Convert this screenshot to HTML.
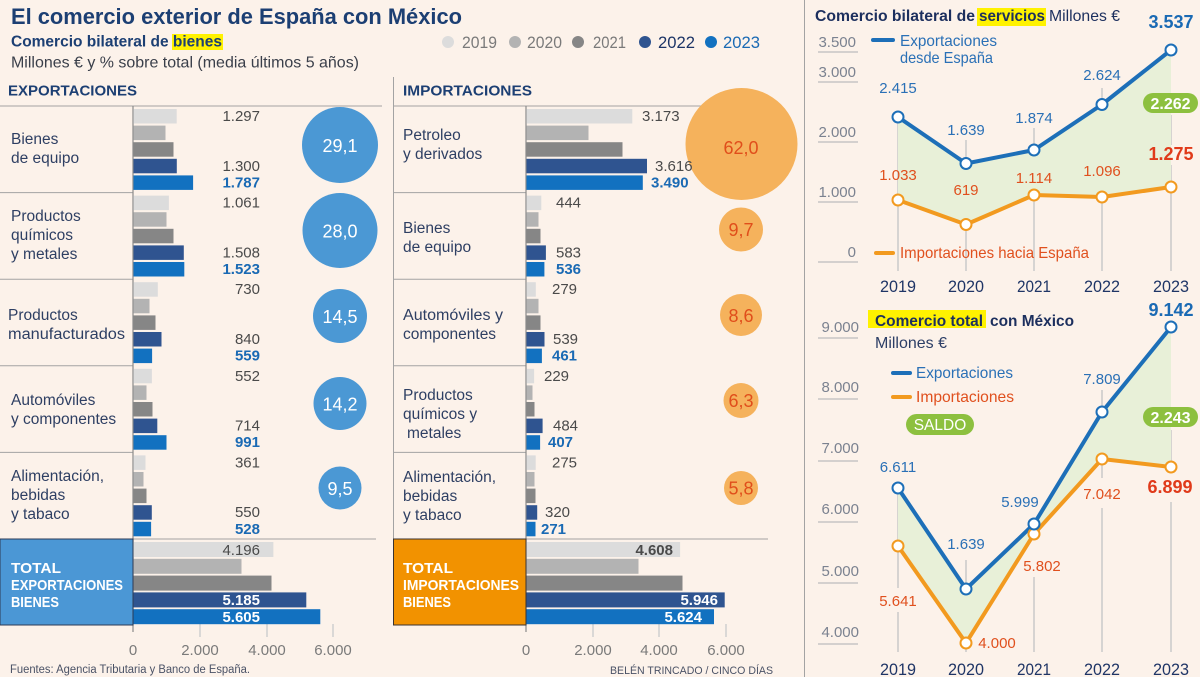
<!DOCTYPE html>
<html><head><meta charset="utf-8"><style>
html,body{margin:0;padding:0;background:#fcf2ea;}
svg{display:block;}
</style></head><body>
<svg width="1200" height="677" viewBox="0 0 1200 677" xmlns="http://www.w3.org/2000/svg" font-family="'Liberation Sans','DejaVu Sans',sans-serif">
<rect width="1200" height="677" fill="#fcf2ea"/>

<!-- HEADER -->
<text x="11" y="24" font-size="22" font-weight="bold" fill="#1c3f73" textLength="451" lengthAdjust="spacingAndGlyphs">El comercio exterior de España con México</text>
<rect x="172" y="34" width="51" height="16" fill="#fff200"/>
<text x="11" y="46.5" font-size="16" font-weight="bold" fill="#1c3f73" textLength="211" lengthAdjust="spacingAndGlyphs">Comercio bilateral de bienes</text>
<text x="11" y="67.5" font-size="16" fill="#3a3f4a" textLength="348" lengthAdjust="spacingAndGlyphs">Millones € y % sobre total (media últimos 5 años)</text>

<g font-size="17">
<circle cx="448" cy="42" r="6" fill="#dcdcdc"/><text x="462" y="48" fill="#7a7a7a" textLength="35" lengthAdjust="spacingAndGlyphs">2019</text>
<circle cx="515" cy="42" r="6" fill="#b3b3b3"/><text x="527" y="48" fill="#7a7a7a" textLength="35" lengthAdjust="spacingAndGlyphs">2020</text>
<circle cx="578" cy="42" r="6" fill="#868686"/><text x="593" y="48" fill="#7a7a7a" textLength="33" lengthAdjust="spacingAndGlyphs">2021</text>
<circle cx="645" cy="42" r="6" fill="#2f5490"/><text x="658" y="48" fill="#1c3466" textLength="37" lengthAdjust="spacingAndGlyphs">2022</text>
<circle cx="711" cy="42" r="6" fill="#1271c0"/><text x="723" y="48" fill="#1a6ab4" textLength="37" lengthAdjust="spacingAndGlyphs">2023</text>
</g>

<text x="8" y="95.5" font-size="15" font-weight="bold" fill="#1c3f73" textLength="129" lengthAdjust="spacingAndGlyphs">EXPORTACIONES</text>
<text x="403" y="95.5" font-size="15" font-weight="bold" fill="#1c3f73" textLength="129" lengthAdjust="spacingAndGlyphs">IMPORTACIONES</text>

<!-- structural lines -->
<g stroke="#a3a3a3" stroke-width="1">
<line x1="0" y1="106" x2="382" y2="106"/>
<line x1="393" y1="106" x2="775" y2="106"/>
<line x1="393.5" y1="77" x2="393.5" y2="625"/>
<line x1="0" y1="192.6" x2="133" y2="192.6"/>
<line x1="0" y1="279.2" x2="133" y2="279.2"/>
<line x1="0" y1="365.8" x2="133" y2="365.8"/>
<line x1="0" y1="452.4" x2="133" y2="452.4"/>
<line x1="393" y1="192.6" x2="526" y2="192.6"/>
<line x1="393" y1="279.2" x2="526" y2="279.2"/>
<line x1="393" y1="365.8" x2="526" y2="365.8"/>
<line x1="393" y1="452.4" x2="526" y2="452.4"/>
<line x1="133" y1="539" x2="376" y2="539"/>
<line x1="526" y1="539" x2="768" y2="539"/>
<line x1="804.5" y1="0" x2="804.5" y2="677"/>
</g>
<g stroke="#8a8a8a" stroke-width="1.2">
<line x1="133" y1="106" x2="133" y2="632"/>
<line x1="526" y1="106" x2="526" y2="632"/>
</g>
<g stroke="#cfcfcf" stroke-width="1.5">
<line x1="200" y1="624" x2="200" y2="637"/>
<line x1="267" y1="624" x2="267" y2="637"/>
<line x1="333" y1="624" x2="333" y2="637"/>
<line x1="593" y1="624" x2="593" y2="637"/>
<line x1="659" y1="624" x2="659" y2="637"/>
<line x1="726" y1="624" x2="726" y2="637"/>
</g>

<!-- CIRCLES (drawn before values) -->
<g fill="#4b98d4">
<circle cx="340" cy="145" r="38"/>
<circle cx="340" cy="230.5" r="37.5"/>
<circle cx="340" cy="316" r="27"/>
<circle cx="340" cy="403.5" r="26.5"/>
<circle cx="340" cy="488" r="21.5"/>
</g>
<g font-size="18" fill="#ffffff" text-anchor="middle">
<text x="340" y="152">29,1</text>
<text x="340" y="237.5">28,0</text>
<text x="340" y="323">14,5</text>
<text x="340" y="410.5">14,2</text>
<text x="340" y="495">9,5</text>
</g>
<g fill="#f5b25c">
<circle cx="741.5" cy="144" r="56"/>
<circle cx="741" cy="229.5" r="22"/>
<circle cx="741" cy="315" r="21"/>
<circle cx="741" cy="400.5" r="17.5"/>
<circle cx="741" cy="488" r="17"/>
</g>
<g font-size="18" fill="#e04e1b" text-anchor="middle">
<text x="741" y="154">62,0</text>
<text x="741" y="236">9,7</text>
<text x="741" y="322">8,6</text>
<text x="741" y="407">6,3</text>
<text x="741" y="494.5">5,8</text>
</g>

<!-- EXPORT BARS -->
<g>
<rect x="133.5" y="109" width="43.2" height="14.5" fill="#dcdcdc"/>
<rect x="133.5" y="125.6" width="32" height="14.5" fill="#b3b3b3"/>
<rect x="133.5" y="142.2" width="40" height="14.5" fill="#868686"/>
<rect x="133.5" y="158.8" width="43.3" height="14.5" fill="#2f5490"/>
<rect x="133.5" y="175.4" width="59.6" height="14.5" fill="#1271c0"/>

<rect x="133.5" y="195.6" width="35.4" height="14.5" fill="#dcdcdc"/>
<rect x="133.5" y="212.2" width="33" height="14.5" fill="#b3b3b3"/>
<rect x="133.5" y="228.8" width="40" height="14.5" fill="#868686"/>
<rect x="133.5" y="245.4" width="50.3" height="14.5" fill="#2f5490"/>
<rect x="133.5" y="262" width="50.8" height="14.5" fill="#1271c0"/>

<rect x="133.5" y="282.2" width="24.3" height="14.5" fill="#dcdcdc"/>
<rect x="133.5" y="298.8" width="16" height="14.5" fill="#b3b3b3"/>
<rect x="133.5" y="315.4" width="22" height="14.5" fill="#868686"/>
<rect x="133.5" y="332" width="28" height="14.5" fill="#2f5490"/>
<rect x="133.5" y="348.6" width="18.6" height="14.5" fill="#1271c0"/>

<rect x="133.5" y="368.8" width="18.4" height="14.5" fill="#dcdcdc"/>
<rect x="133.5" y="385.4" width="13" height="14.5" fill="#b3b3b3"/>
<rect x="133.5" y="402" width="19" height="14.5" fill="#868686"/>
<rect x="133.5" y="418.6" width="23.8" height="14.5" fill="#2f5490"/>
<rect x="133.5" y="435.2" width="33" height="14.5" fill="#1271c0"/>

<rect x="133.5" y="455.4" width="12" height="14.5" fill="#dcdcdc"/>
<rect x="133.5" y="472" width="10" height="14.5" fill="#b3b3b3"/>
<rect x="133.5" y="488.6" width="13" height="14.5" fill="#868686"/>
<rect x="133.5" y="505.2" width="18.3" height="14.5" fill="#2f5490"/>
<rect x="133.5" y="521.8" width="17.6" height="14.5" fill="#1271c0"/>

<rect x="133.5" y="542" width="139.9" height="15" fill="#dcdcdc"/>
<rect x="133.5" y="558.8" width="108" height="15" fill="#b3b3b3"/>
<rect x="133.5" y="575.6" width="138" height="15" fill="#868686"/>
<rect x="133.5" y="592.4" width="172.8" height="15" fill="#2f5490"/>
<rect x="133.5" y="609.2" width="186.8" height="15" fill="#1271c0"/>
</g>

<!-- IMPORT BARS -->
<g>
<rect x="526.5" y="109" width="105.8" height="14.5" fill="#dcdcdc"/>
<rect x="526.5" y="125.6" width="62" height="14.5" fill="#b3b3b3"/>
<rect x="526.5" y="142.2" width="96" height="14.5" fill="#868686"/>
<rect x="526.5" y="158.8" width="120.5" height="14.5" fill="#2f5490"/>
<rect x="526.5" y="175.4" width="116.3" height="14.5" fill="#1271c0"/>

<rect x="526.5" y="195.6" width="14.8" height="14.5" fill="#dcdcdc"/>
<rect x="526.5" y="212.2" width="12" height="14.5" fill="#b3b3b3"/>
<rect x="526.5" y="228.8" width="14" height="14.5" fill="#868686"/>
<rect x="526.5" y="245.4" width="19.4" height="14.5" fill="#2f5490"/>
<rect x="526.5" y="262" width="17.9" height="14.5" fill="#1271c0"/>

<rect x="526.5" y="282.2" width="9.3" height="14.5" fill="#dcdcdc"/>
<rect x="526.5" y="298.8" width="12" height="14.5" fill="#b3b3b3"/>
<rect x="526.5" y="315.4" width="14" height="14.5" fill="#868686"/>
<rect x="526.5" y="332" width="18" height="14.5" fill="#2f5490"/>
<rect x="526.5" y="348.6" width="15.4" height="14.5" fill="#1271c0"/>

<rect x="526.5" y="368.8" width="7.6" height="14.5" fill="#dcdcdc"/>
<rect x="526.5" y="385.4" width="6" height="14.5" fill="#b3b3b3"/>
<rect x="526.5" y="402" width="8" height="14.5" fill="#868686"/>
<rect x="526.5" y="418.6" width="16.1" height="14.5" fill="#2f5490"/>
<rect x="526.5" y="435.2" width="13.6" height="14.5" fill="#1271c0"/>

<rect x="526.5" y="455.4" width="9.2" height="14.5" fill="#dcdcdc"/>
<rect x="526.5" y="472" width="8" height="14.5" fill="#b3b3b3"/>
<rect x="526.5" y="488.6" width="9" height="14.5" fill="#868686"/>
<rect x="526.5" y="505.2" width="10.7" height="14.5" fill="#2f5490"/>
<rect x="526.5" y="521.8" width="9" height="14.5" fill="#1271c0"/>

<rect x="526.5" y="542" width="153.6" height="15" fill="#dcdcdc"/>
<rect x="526.5" y="558.8" width="112" height="15" fill="#b3b3b3"/>
<rect x="526.5" y="575.6" width="156" height="15" fill="#868686"/>
<rect x="526.5" y="592.4" width="198.2" height="15" fill="#2f5490"/>
<rect x="526.5" y="609.2" width="187.5" height="15" fill="#1271c0"/>
</g>

<!-- TOTAL BOXES -->
<rect x="0" y="539" width="133" height="86" fill="#4b97d5" stroke="#2d3b55" stroke-width="1"/>
<rect x="393.5" y="539" width="132.5" height="86" fill="#f29200" stroke="#3a3330" stroke-width="1"/>
<g font-size="15" font-weight="bold" fill="#ffffff">
<text x="11" y="573" textLength="50" lengthAdjust="spacingAndGlyphs">TOTAL</text>
<text x="11" y="590" textLength="112" lengthAdjust="spacingAndGlyphs">EXPORTACIONES</text>
<text x="11" y="607" textLength="48" lengthAdjust="spacingAndGlyphs">BIENES</text>
<text x="403" y="573" textLength="50" lengthAdjust="spacingAndGlyphs">TOTAL</text>
<text x="403" y="590" textLength="116" lengthAdjust="spacingAndGlyphs">IMPORTACIONES</text>
<text x="403" y="607" textLength="48" lengthAdjust="spacingAndGlyphs">BIENES</text>
</g>

<!-- CATEGORY LABELS -->
<g font-size="15.5" fill="#2e3f63">
<text x="11" y="144">Bienes</text>
<text x="11" y="163">de equipo</text>
<text x="11" y="221">Productos</text>
<text x="11" y="240">químicos</text>
<text x="11" y="259">y metales</text>
<text x="8" y="320">Productos</text>
<text x="8" y="339" textLength="117" lengthAdjust="spacingAndGlyphs">manufacturados</text>
<text x="11" y="405">Automóviles</text>
<text x="11" y="424">y componentes</text>
<text x="11" y="481">Alimentación,</text>
<text x="11" y="500">bebidas</text>
<text x="11" y="519">y tabaco</text>

<text x="403" y="140">Petroleo</text>
<text x="403" y="159">y derivados</text>
<text x="403" y="233">Bienes</text>
<text x="403" y="252">de equipo</text>
<text x="403" y="320" textLength="100" lengthAdjust="spacingAndGlyphs">Automóviles y</text>
<text x="403" y="339">componentes</text>
<text x="403" y="400">Productos</text>
<text x="403" y="419">químicos y</text>
<text x="407" y="438">metales</text>
<text x="403" y="482">Alimentación,</text>
<text x="403" y="501">bebidas</text>
<text x="403" y="520">y tabaco</text>
</g>

<!-- EXPORT VALUES -->
<g font-size="15" fill="#4a4a4a" text-anchor="end">
<text x="260" y="121">1.297</text>
<text x="260" y="170.8">1.300</text>
<text x="260" y="207.6">1.061</text>
<text x="260" y="257.4">1.508</text>
<text x="260" y="294.2">730</text>
<text x="260" y="344">840</text>
<text x="260" y="380.8">552</text>
<text x="260" y="430.6">714</text>
<text x="260" y="467.4">361</text>
<text x="260" y="517.2">550</text>
<text x="260" y="555">4.196</text>
</g>
<g font-size="15" font-weight="bold" fill="#1a6ab4" text-anchor="end">
<text x="260" y="187.4">1.787</text>
<text x="260" y="274">1.523</text>
<text x="260" y="360.6">559</text>
<text x="260" y="447.2">991</text>
<text x="260" y="533.8">528</text>
</g>
<g font-size="15" font-weight="bold" fill="#ffffff" text-anchor="end">
<text x="260" y="605">5.185</text>
<text x="260" y="622">5.605</text>
</g>

<!-- IMPORT VALUES -->
<g font-size="15" fill="#4a4a4a">
<text x="642" y="121">3.173</text>
<text x="655" y="170.8">3.616</text>
<text x="556" y="207.6">444</text>
<text x="556" y="257.4">583</text>
<text x="552" y="294.2">279</text>
<text x="553" y="344">539</text>
<text x="544" y="380.8">229</text>
<text x="553" y="430.6">484</text>
<text x="552" y="467.4">275</text>
<text x="545" y="517.2">320</text>
</g>
<g font-size="15" font-weight="bold" fill="#1a6ab4">
<text x="651" y="187.4">3.490</text>
<text x="556" y="274">536</text>
<text x="552" y="360.6">461</text>
<text x="548" y="447.2">407</text>
<text x="541" y="533.8">271</text>
</g>
<text x="673" y="555" font-size="15" font-weight="bold" fill="#4a4a4a" text-anchor="end">4.608</text>
<g font-size="15" font-weight="bold" fill="#ffffff" text-anchor="end">
<text x="718" y="605">5.946</text>
<text x="702" y="622">5.624</text>
</g>

<!-- AXIS LABELS -->
<g font-size="15" fill="#7a7a7a" text-anchor="middle">
<text x="133" y="655">0</text>
<text x="200" y="655">2.000</text>
<text x="267" y="655">4.000</text>
<text x="333" y="655">6.000</text>
<text x="526" y="655">0</text>
<text x="593" y="655">2.000</text>
<text x="659" y="655">4.000</text>
<text x="726" y="655">6.000</text>
</g>

<text x="10" y="673" font-size="11.5" fill="#4a5266" textLength="240" lengthAdjust="spacingAndGlyphs">Fuentes: Agencia Tributaria y Banco de España.</text>
<text x="610" y="674" font-size="11" fill="#4a5266" textLength="163" lengthAdjust="spacingAndGlyphs">BELÉN TRINCADO / CINCO DÍAS</text>

<!-- ================= RIGHT TOP CHART ================= -->
<rect x="977" y="8" width="69" height="18" fill="#fff200"/>
<text x="815" y="21" font-size="16" font-weight="bold" fill="#1c2f5e" textLength="160" lengthAdjust="spacingAndGlyphs">Comercio bilateral de</text>
<text x="979" y="21" font-size="16" font-weight="bold" fill="#1c2f5e" textLength="66" lengthAdjust="spacingAndGlyphs">servicios</text>
<text x="1049" y="21" font-size="16" fill="#1c2f5e" textLength="71" lengthAdjust="spacingAndGlyphs">Millones €</text>

<g stroke="#bdbdbd" stroke-width="1.2">
<line x1="818" y1="52" x2="858" y2="52"/>
<line x1="818" y1="82" x2="858" y2="82"/>
<line x1="818" y1="142" x2="858" y2="142"/>
<line x1="818" y1="202" x2="858" y2="202"/>
<line x1="818" y1="262" x2="858" y2="262"/>
</g>
<g font-size="15" fill="#7b8290" text-anchor="end">
<text x="856" y="47">3.500</text>
<text x="856" y="77">3.000</text>
<text x="856" y="137">2.000</text>
<text x="856" y="197">1.000</text>
<text x="856" y="257">0</text>
</g>

<g stroke="#c9c9c9" stroke-width="1.5">
<line x1="898" y1="113" x2="898" y2="271"/>
<line x1="966" y1="140" x2="966" y2="271"/>
<line x1="1034" y1="128" x2="1034" y2="271"/>
<line x1="1102" y1="88" x2="1102" y2="271"/>
<line x1="1171" y1="115" x2="1171" y2="145"/>
<line x1="1171" y1="165" x2="1171" y2="271"/>
</g>

<polygon points="898,117 966,163.5 1034,150 1102,104.5 1171,50 1171,187 1102,197 1034,195 966,224.5 898,200" fill="#e8f0d8"/>
<polyline points="898,117 966,163.5 1034,150 1102,104.5 1171,50" fill="none" stroke="#1d6fb8" stroke-width="4" stroke-linejoin="round"/>
<polyline points="898,200 966,224.5 1034,195 1102,197 1171,187" fill="none" stroke="#f29a1f" stroke-width="4" stroke-linejoin="round"/>
<g fill="#ffffff" stroke="#1d6fb8" stroke-width="2">
<circle cx="898" cy="117" r="5.5"/><circle cx="966" cy="163.5" r="5.5"/><circle cx="1034" cy="150" r="5.5"/><circle cx="1102" cy="104.5" r="5.5"/><circle cx="1171" cy="50" r="5.5"/>
</g>
<g fill="#ffffff" stroke="#f29a1f" stroke-width="2">
<circle cx="898" cy="200" r="5.5"/><circle cx="966" cy="224.5" r="5.5"/><circle cx="1034" cy="195" r="5.5"/><circle cx="1102" cy="197" r="5.5"/><circle cx="1171" cy="187" r="5.5"/>
</g>

<line x1="873" y1="40" x2="893" y2="40" stroke="#1d6fb8" stroke-width="4" stroke-linecap="round"/>
<text x="900" y="46" font-size="16" fill="#2a70b6" textLength="97" lengthAdjust="spacingAndGlyphs">Exportaciones</text>
<text x="900" y="63" font-size="16" fill="#2a70b6" textLength="93" lengthAdjust="spacingAndGlyphs">desde España</text>
<line x1="876" y1="253" x2="893" y2="253" stroke="#f29a1f" stroke-width="4" stroke-linecap="round"/>
<text x="900" y="258" font-size="16" fill="#e0501e" textLength="189" lengthAdjust="spacingAndGlyphs">Importaciones hacia España</text>

<g font-size="15" fill="#2a70b6" text-anchor="middle">
<text x="898" y="93">2.415</text>
<text x="966" y="135">1.639</text>
<text x="1034" y="123">1.874</text>
<text x="1102" y="80">2.624</text>
</g>
<text x="1171" y="28" font-size="18" font-weight="bold" fill="#1a6ab4" text-anchor="middle">3.537</text>
<g font-size="15" fill="#e0501e" text-anchor="middle">
<text x="898" y="180">1.033</text>
<text x="966" y="195">619</text>
<text x="1034" y="183">1.114</text>
<text x="1102" y="176">1.096</text>
</g>
<text x="1171" y="160" font-size="18" font-weight="bold" fill="#e03a1a" text-anchor="middle">1.275</text>
<rect x="1143" y="93" width="55" height="20" rx="10" fill="#8dc03f"/>
<text x="1170.5" y="109" font-size="16" font-weight="bold" fill="#ffffff" text-anchor="middle">2.262</text>

<g font-size="17" fill="#1f3566" text-anchor="middle">
<text x="898" y="292" textLength="36" lengthAdjust="spacingAndGlyphs">2019</text>
<text x="966" y="292" textLength="36" lengthAdjust="spacingAndGlyphs">2020</text>
<text x="1034" y="292" textLength="34" lengthAdjust="spacingAndGlyphs">2021</text>
<text x="1102" y="292" textLength="36" lengthAdjust="spacingAndGlyphs">2022</text>
<text x="1171" y="292" textLength="36" lengthAdjust="spacingAndGlyphs">2023</text>
</g>

<!-- ================= RIGHT BOTTOM CHART ================= -->
<g stroke="#bdbdbd" stroke-width="1.2">
<line x1="818" y1="338" x2="858" y2="338"/>
<line x1="818" y1="399" x2="858" y2="399"/>
<line x1="818" y1="461" x2="858" y2="461"/>
<line x1="818" y1="522" x2="858" y2="522"/>
<line x1="818" y1="583" x2="858" y2="583"/>
<line x1="818" y1="644" x2="858" y2="644"/>
</g>
<g font-size="15" fill="#7b8290" text-anchor="end">
<text x="859" y="332">9.000</text>
<text x="859" y="392">8.000</text>
<text x="859" y="453">7.000</text>
<text x="859" y="514">6.000</text>
<text x="859" y="576">5.000</text>
<text x="859" y="637">4.000</text>
</g>

<g stroke="#c9c9c9" stroke-width="1.5">
<line x1="898" y1="488" x2="898" y2="588"/>
<line x1="898" y1="612" x2="898" y2="652"/>
<line x1="966" y1="560" x2="966" y2="652"/>
<line x1="1034" y1="577" x2="1034" y2="652"/>
<line x1="1102" y1="390" x2="1102" y2="478"/>
<line x1="1102" y1="508" x2="1102" y2="652"/>
<line x1="1171" y1="430" x2="1171" y2="470"/>
<line x1="1171" y1="502" x2="1171" y2="652"/>
</g>

<polygon points="898,488 966,589 1034,524 1102,412 1171,327 1171,467 1102,459 1034,534 966,643 898,546" fill="#e8f0d8"/>
<polyline points="898,488 966,589 1034,524 1102,412 1171,327" fill="none" stroke="#1d6fb8" stroke-width="4" stroke-linejoin="round"/>
<polyline points="898,546 966,643 1034,534 1102,459 1171,467" fill="none" stroke="#f29a1f" stroke-width="4" stroke-linejoin="round"/>
<g fill="#ffffff" stroke="#f29a1f" stroke-width="2">
<circle cx="898" cy="546" r="5.5"/><circle cx="966" cy="643" r="5.5"/><circle cx="1034" cy="534" r="5.5"/><circle cx="1102" cy="459" r="5.5"/><circle cx="1171" cy="467" r="5.5"/>
</g>
<g fill="#ffffff" stroke="#1d6fb8" stroke-width="2">
<circle cx="898" cy="488" r="5.5"/><circle cx="966" cy="589" r="5.5"/><circle cx="1034" cy="524" r="5.5"/><circle cx="1102" cy="412" r="5.5"/><circle cx="1171" cy="327" r="5.5"/>
</g>

<rect x="868" y="310" width="118" height="18" fill="#fff200"/>
<text x="875" y="326" font-size="16" font-weight="bold" fill="#1c2f5e" textLength="108" lengthAdjust="spacingAndGlyphs">Comercio total</text>
<text x="990" y="326" font-size="16" font-weight="bold" fill="#1c2f5e" textLength="84" lengthAdjust="spacingAndGlyphs">con México</text>
<text x="875" y="348" font-size="16" fill="#2c3e66" textLength="72" lengthAdjust="spacingAndGlyphs">Millones €</text>

<line x1="893" y1="373" x2="910" y2="373" stroke="#1d6fb8" stroke-width="4" stroke-linecap="round"/>
<text x="916" y="378" font-size="16" fill="#2a70b6" textLength="97" lengthAdjust="spacingAndGlyphs">Exportaciones</text>
<line x1="893" y1="397" x2="910" y2="397" stroke="#f29a1f" stroke-width="4" stroke-linecap="round"/>
<text x="916" y="402" font-size="16" fill="#e0501e" textLength="98" lengthAdjust="spacingAndGlyphs">Importaciones</text>
<rect x="906" y="414" width="68" height="21" rx="10.5" fill="#8dc03f"/>
<text x="940" y="430" font-size="15.5" fill="#ffffff" text-anchor="middle">SALDO</text>

<g font-size="15" fill="#2a70b6" text-anchor="middle">
<text x="898" y="472">6.611</text>
<text x="966" y="549">1.639</text>
<text x="1020" y="507">5.999</text>
<text x="1102" y="384">7.809</text>
</g>
<text x="1171" y="316" font-size="18" font-weight="bold" fill="#1a6ab4" text-anchor="middle">9.142</text>
<g font-size="15" fill="#e0501e" text-anchor="middle">
<text x="898" y="606">5.641</text>
<text x="997" y="648">4.000</text>
<text x="1042" y="571">5.802</text>
<text x="1102" y="499">7.042</text>
</g>
<text x="1170" y="493" font-size="18" font-weight="bold" fill="#e03a1a" text-anchor="middle">6.899</text>
<rect x="1143" y="407" width="55" height="20" rx="10" fill="#8dc03f"/>
<text x="1170.5" y="423" font-size="16" font-weight="bold" fill="#ffffff" text-anchor="middle">2.243</text>

<g font-size="17" fill="#1f3566" text-anchor="middle">
<text x="898" y="675" textLength="36" lengthAdjust="spacingAndGlyphs">2019</text>
<text x="966" y="675" textLength="36" lengthAdjust="spacingAndGlyphs">2020</text>
<text x="1034" y="675" textLength="34" lengthAdjust="spacingAndGlyphs">2021</text>
<text x="1102" y="675" textLength="36" lengthAdjust="spacingAndGlyphs">2022</text>
<text x="1171" y="675" textLength="36" lengthAdjust="spacingAndGlyphs">2023</text>
</g>
</svg>
</body></html>
